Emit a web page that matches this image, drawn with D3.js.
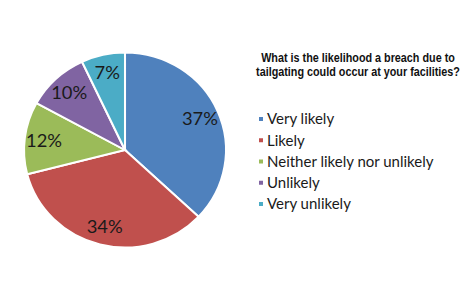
<!DOCTYPE html>
<html>
<head>
<meta charset="utf-8">
<script src="https://cdn.jsdelivr.net/npm/d3@7"></script>
<style>
  html, body { margin: 0; padding: 0; background: #fff; }
  svg { display: block; }
</style>
</head>
<body>
<div id="chart"></div>
<script>
'use strict';

const categories = ['Very likely', 'Likely', 'Neither likely nor unlikely', 'Unlikely', 'Very unlikely'];
const values = [37, 34, 12, 10, 7];
const colors = ['#4f81bd', '#c0504d', '#9bbb59', '#8064a2', '#4bacc6'];
const titleLines = ['What is the likelihood a breach due to', 'tailgating could occur at your facilities?'];

const width = 474, height = 289;
const cx = 125, cy = 150, r = 99;

const $svg = d3.select('#chart').append('svg')
  .attr('width', width)
  .attr('height', height);

const data = categories.map((name, i) => ({ name, value: values[i], color: colors[i] }));

const pie = d3.pie().value((d) => d.value).sort(null);
const arcs = pie(data);
const arc = d3.arc().innerRadius(0).outerRadius(r);
const labelArc = d3.arc().innerRadius(80).outerRadius(80);

const $pie = $svg.append('g')
  .attr('transform', 'translate(' + cx + ',' + cy + ') scale(1.02,0.985)');

$pie.selectAll('.slice')
  .data(arcs)
  .enter()
  .append('path')
  .attr('class', 'slice')
  .attr('d', arc)
  .attr('fill', (d) => d.data.color)
  .attr('stroke', '#fff')
  .attr('stroke-width', 2);

$pie.selectAll('.label')
  .data(arcs)
  .enter()
  .append('text')
  .attr('class', 'label')
  .attr('transform', (d) => 'translate(' + labelArc.centroid(d) + ')')
  .attr('text-anchor', 'middle')
  .attr('dy', '0.36em')
  .style('font-family', 'Lato, "Open Sans", sans-serif')
  .style('font-size', '18px')
  .attr('fill', '#1a1a1a')
  .text((d) => d.data.value + '%');

// title, squeezed horizontally to the reference width
const $title = $svg.append('g');
const $titleText = $title.selectAll('text')
  .data(titleLines)
  .enter()
  .append('text')
  .attr('x', 0)
  .attr('y', (d, i) => 62 + i * 14)
  .attr('text-anchor', 'middle')
  .style('font-family', '"Liberation Sans", Arial, sans-serif')
  .style('font-weight', 'bold')
  .style('font-size', '12.5px')
  .attr('fill', '#111')
  .text((d) => d);

const widest = d3.max($titleText.nodes(), (n) => n.getComputedTextLength());
const sx = Math.min(1, 204 / widest);
$title.attr('transform', 'translate(358,0) scale(' + sx + ',1)');

// legend
const legendY = d3.scalePoint()
  .domain(categories)
  .range([119, 204]);

const $legend = $svg.append('g').attr('class', 'legend');
const $item = $legend.selectAll('.item')
  .data(data)
  .enter()
  .append('g')
  .attr('class', 'item')
  .attr('transform', (d) => 'translate(259,' + legendY(d.name) + ')');

$item.append('rect')
  .attr('x', 0)
  .attr('y', -2)
  .attr('width', 4)
  .attr('height', 4)
  .attr('fill', (d) => d.color);

$item.append('text')
  .attr('x', 8)
  .attr('dy', '0.36em')
  .style('font-family', 'Lato, "Open Sans", sans-serif')
  .style('font-size', '15px')
  .attr('fill', '#1a1a1a')
  .text((d) => d.name);
</script>
</body>
</html>
